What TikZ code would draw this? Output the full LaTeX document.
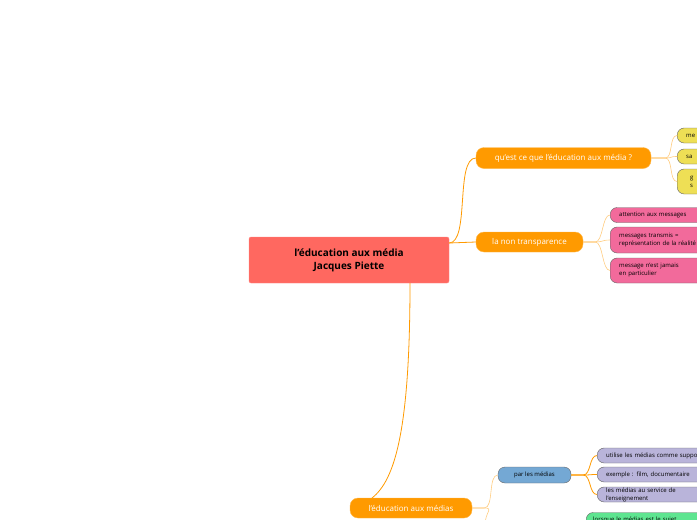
\documentclass[tikz,border=0pt]{standalone}
\usepackage{fontspec}
\setmainfont{Open Sans}
\usetikzlibrary{calc}
\begin{document}
\begin{tikzpicture}[x=1pt,y=-1pt,
 orangebox/.style={fill=orange1,draw=orange1!70!white,rounded corners=8pt,text=white,font=\fontsize{8}{9}\selectfont,inner sep=0pt},
 leaf/.style={draw=black!60,rounded corners=7pt,font=\fontsize{6}{8}\selectfont,align=left,anchor=west,inner xsep=9pt,inner ysep=0pt,minimum height=15pt,text width=110pt},
 conn/.style={draw=orange1,line width=0.8pt},
 thin/.style={draw=orange1!50,line width=0.6pt}]
\definecolor{orange1}{HTML}{FF9A00}
\definecolor{salmon}{HTML}{FF6860}
\definecolor{yel}{HTML}{EEDF55}
\definecolor{pink}{HTML}{F26A9B}
\definecolor{lav}{HTML}{B9B4DA}
\definecolor{blu}{HTML}{74A8D4}
\definecolor{grn}{HTML}{5EE590}
\clip (0,0) rectangle (697,520);
\useasboundingbox (0,0) rectangle (697,520);
\node[fill=salmon,draw=salmon!80!white,rounded corners=2pt,minimum width=200pt,minimum height=46pt,align=center,font=\bfseries\fontsize{10}{13}\selectfont] (c) at (349,260) {l'éducation aux média\\Jacques Piette};
\node[orangebox,minimum width=175pt,minimum height=21pt] (o1) at (563.5,158) {qu'est ce que l'éducation aux média ?};
\node[orangebox,minimum width=107pt,minimum height=20pt] (o2) at (529.5,242) {la non transparence};
\node[orangebox,minimum width=122pt,minimum height=20pt] (o3) at (411,508) {l'éducation aux médias};
\draw[conn] (449,243) .. controls (470,243) and (455,158) .. (o1.west);
\draw[conn] (449,243) -- (o2.west);
\draw[conn] (410,283) .. controls (410,430) and (395,480) .. (372,498);
% yellow leaves
\node[leaf,fill=yel,minimum height=15pt] (y1) at (677,135.5) {me};
\node[leaf,fill=yel] (y2) at (677,156.5) {sa};
\node[leaf,fill=yel,minimum height=25pt] (y3) at (677,181.5) {\hspace*{4pt}g\\\hspace*{4pt}s};
\foreach \n in {y1,y2,y3} \draw[thin] (o1.east) -- ++(14,0) .. controls +(8,0) and ($(\n.west)+(-8,0)$) .. (\n.west);
% pink leaves
\node[leaf,fill=pink] (p1) at (610,215) {attention aux messages};
\node[leaf,fill=pink,minimum height=26pt] (p2) at (610,240) {messages transmis = \\représentation de la réalité};
\node[leaf,fill=pink,minimum height=25pt] (p3) at (610,270.5) {message n'est jamais\\en particulier};
\foreach \n in {p1,p2,p3} \draw[thin] (o2.east) -- ++(12,0) .. controls +(8,0) and ($(\n.west)+(-8,0)$) .. (\n.west);
% bottom
\node[draw=black!60,fill=blu,rounded corners=7pt,minimum width=73pt,minimum height=16pt,inner sep=0pt,font=\fontsize{6}{7}\selectfont] (b) at (534.5,475) {par les médias};
\draw[thin] (o3.east) -- ++(12,0) .. controls +(10,0) and ($(b.west)+(-10,0)$) .. (b.west);
\draw[thin] (o3.east) -- ++(12,0) .. controls +(10,0) and (485,512) .. (485,525);
\node[leaf,fill=lav] (l1) at (597,455.5) {utilise les médias comme support};
\node[leaf,fill=lav] (l2) at (597,474.5) {exemple : film, documentaire};
\node[leaf,fill=lav] (l3) at (597,494.5) {les médias au service de l'enseignement};
\foreach \n in {l1,l2,l3} \draw[conn] (b.east) -- ++(12,0) .. controls +(8,0) and ($(\n.west)+(-8,0)$) .. (\n.west);
\node[leaf,fill=grn,text width=130pt,inner xsep=7pt] (g1) at (586,520) {lorsque le médias est le sujet};
\end{tikzpicture}
\end{document}
